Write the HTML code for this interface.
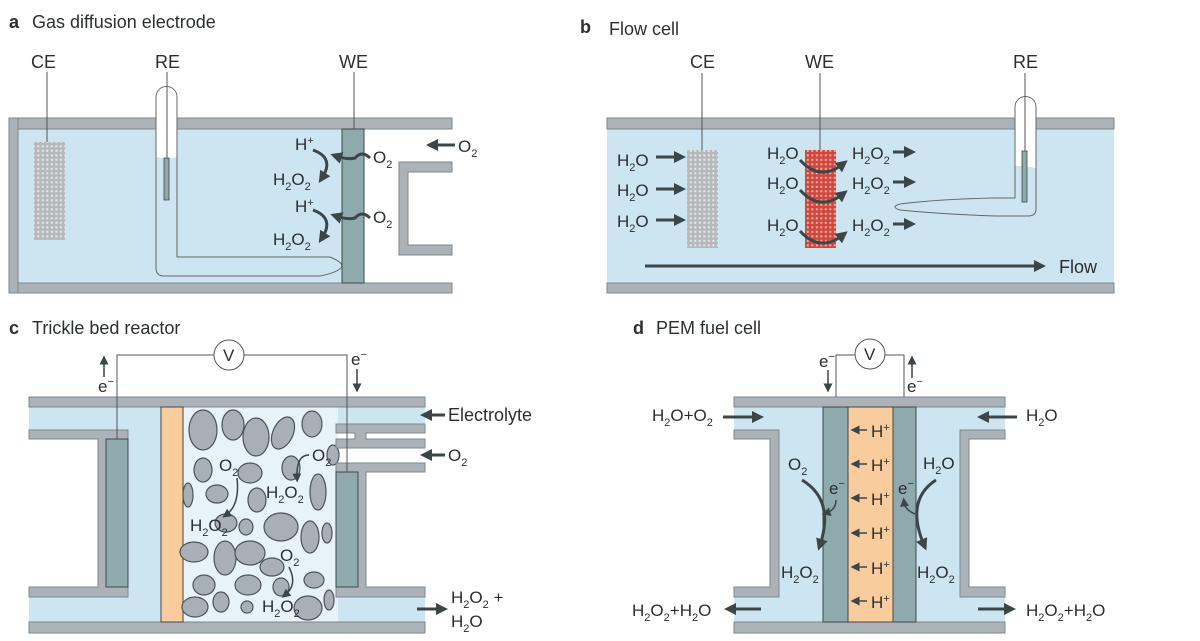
<!DOCTYPE html>
<html><head><meta charset="utf-8"><style>
html,body{margin:0;padding:0;background:#fff}
svg{display:block}
text{font-family:"Liberation Sans",sans-serif;fill:#2b2f31}
.t{font-size:18px}
.c{font-size:17px}
.s{font-size:11px}
.bar{fill:#abb3b8;stroke:#7e878c;stroke-width:1}
.blue{fill:#cde4f1}
.teal{fill:#8eaaac;stroke:#3e4a4d;stroke-width:1}
.rk{fill:#a9b0b5;stroke:#4a5357;stroke-width:1.2}
.thin{stroke:#555;stroke-width:1;fill:none}
.ar{stroke:#3b4649;stroke-width:3;fill:none}
.ar2{stroke:#3b4649;stroke-width:1.5;fill:none}
</style></head><body>
<svg width="1200" height="641" viewBox="0 0 1200 641" xmlns="http://www.w3.org/2000/svg">
<defs>
<marker id="m" markerWidth="4" markerHeight="4" refX="2" refY="2" orient="auto" markerUnits="strokeWidth"><path d="M0,0 L4,2 L0,4 Z" fill="#3b4649"/></marker>
<marker id="ms" markerWidth="6" markerHeight="6" refX="3" refY="3" orient="auto" markerUnits="strokeWidth"><path d="M0,0 L6,3 L0,6 Z" fill="#3b4649"/></marker>
<pattern id="gm" width="4.5" height="4.5" patternUnits="userSpaceOnUse"><rect width="4.5" height="4.5" fill="#b5b9bc"/><rect x="1.3" y="1.3" width="2" height="2" fill="#e4e8ea"/></pattern>
<pattern id="rm" width="4.5" height="4.5" patternUnits="userSpaceOnUse"><rect width="4.5" height="4.5" fill="#d0473d"/><rect x="1.3" y="1.3" width="2" height="2" fill="#f0b0a8"/></pattern>
</defs>

<!-- ===== Panel a ===== -->
<text x="9" y="28" class="t" font-weight="bold">a</text>
<text x="32" y="28" class="t">Gas diffusion electrode</text>
<rect x="18" y="129" width="324" height="154" class="blue"/>
<rect x="9" y="118" width="443" height="11" class="bar"/>
<rect x="9" y="283" width="443" height="10" class="bar"/>
<rect x="9" y="118" width="9" height="175" class="bar"/>
<path d="M399,162 H452 V172 H408 V245 H452 V255 H399 Z" class="bar"/>
<rect x="34" y="142" width="31" height="98" fill="url(#gm)"/>
<line x1="47" y1="72" x2="47" y2="142" class="thin"/>
<text x="31" y="68" class="t">CE</text>
<path d="M156,97 A10.5,10.5 0 0 1 177,97 V257 H330 Q342,262 342,266 Q340,272 320,276 H164 Q156,276 156,268 Z" fill="#cde4f1" stroke="#666" stroke-width="1"/>
<path d="M156.5,97 A10,10 0 0 1 176.5,97 V157 Q166,160 156.5,157 Z" fill="#fff"/>
<rect x="164" y="158" width="5" height="42" fill="#8eaaac" stroke="#444" stroke-width="0.8"/>
<line x1="167" y1="72" x2="167" y2="158" class="thin"/>
<text x="155" y="68" class="t">RE</text>
<rect x="342" y="129" width="22" height="154" class="teal"/>
<line x1="354" y1="72" x2="354" y2="129" class="thin"/>
<text x="339" y="68" class="t">WE</text>
<path d="M455,145 H432" class="ar" marker-end="url(#m)"/>
<text x="458" y="152" class="c">O<tspan class="s" dy="5">2</tspan></text>
<text x="295" y="150" class="c">H<tspan class="s" dy="-6">+</tspan></text>
<path d="M313,150 Q335,158 322,178" class="ar" marker-end="url(#m)"/>
<path d="M370,158 Q362,150 355,158 Q348,160 336,156" class="ar" marker-end="url(#m)" stroke-width="2.5"/>
<text x="373" y="163" class="c">O<tspan class="s" dy="5">2</tspan></text>
<text x="273" y="185" class="c">H<tspan class="s" dy="5">2</tspan><tspan dy="-5">O</tspan><tspan class="s" dy="5">2</tspan></text>
<text x="295" y="212" class="c">H<tspan class="s" dy="-6">+</tspan></text>
<path d="M313,210 Q335,218 322,238" class="ar" marker-end="url(#m)"/>
<path d="M370,218 Q362,210 355,218 Q348,220 336,216" class="ar" marker-end="url(#m)" stroke-width="2.5"/>
<text x="373" y="223" class="c">O<tspan class="s" dy="5">2</tspan></text>
<text x="273" y="245" class="c">H<tspan class="s" dy="5">2</tspan><tspan dy="-5">O</tspan><tspan class="s" dy="5">2</tspan></text>

<!-- ===== Panel b ===== -->
<text x="580" y="33" class="t" font-weight="bold">b</text>
<text x="609" y="35" class="t">Flow cell</text>
<rect x="607" y="129" width="507" height="154" class="blue"/>
<rect x="607" y="118" width="507" height="11" class="bar"/>
<rect x="607" y="283" width="507" height="10" class="bar"/>
<rect x="687" y="150" width="31" height="98" fill="url(#gm)"/>
<line x1="702" y1="73" x2="702" y2="150" class="thin"/>
<text x="690" y="68" class="t">CE</text>
<rect x="805" y="150" width="31" height="98" fill="url(#rm)"/>
<line x1="820" y1="73" x2="820" y2="150" class="thin"/>
<text x="805" y="68" class="t">WE</text>
<path d="M1015,107 A10.5,10.5 0 0 1 1036,107 V209 Q1036,216 1028,216 H995 Q940,214 900,210 Q890,207 900,204 Q940,199 995,198 H1015 Z" fill="#cde4f1" stroke="#666" stroke-width="1"/>
<path d="M1015.5,107 A10,10 0 0 1 1035.5,107 V168 Q1025,166 1015.5,166 Z" fill="#fff"/>
<rect x="1022" y="151" width="5" height="51" fill="#8eaaac" stroke="#444" stroke-width="0.8"/>
<line x1="1025" y1="73" x2="1025" y2="151" class="thin"/>
<text x="1013" y="68" class="t">RE</text>
<text x="617" y="166" class="c">H<tspan class="s" dy="5">2</tspan><tspan dy="-5">O</tspan></text>
<text x="617" y="196" class="c">H<tspan class="s" dy="5">2</tspan><tspan dy="-5">O</tspan></text>
<text x="617" y="227" class="c">H<tspan class="s" dy="5">2</tspan><tspan dy="-5">O</tspan></text>
<path d="M656,157 H680" class="ar" marker-end="url(#m)"/>
<path d="M656,189 H680" class="ar" marker-end="url(#m)"/>
<path d="M656,220 H680" class="ar" marker-end="url(#m)"/>
<text x="767" y="159" class="c">H<tspan class="s" dy="5">2</tspan><tspan dy="-5">O</tspan></text>
<text x="767" y="189" class="c">H<tspan class="s" dy="5">2</tspan><tspan dy="-5">O</tspan></text>
<text x="767" y="231" class="c">H<tspan class="s" dy="5">2</tspan><tspan dy="-5">O</tspan></text>
<path d="M800,160 Q820,182 843,164" class="ar" marker-end="url(#m)"/>
<path d="M800,190 Q820,212 843,194" class="ar" marker-end="url(#m)"/>
<path d="M800,231 Q820,253 843,235" class="ar" marker-end="url(#m)"/>
<text x="852" y="159" class="c">H<tspan class="s" dy="5">2</tspan><tspan dy="-5">O</tspan><tspan class="s" dy="5">2</tspan></text>
<text x="852" y="189" class="c">H<tspan class="s" dy="5">2</tspan><tspan dy="-5">O</tspan><tspan class="s" dy="5">2</tspan></text>
<text x="852" y="231" class="c">H<tspan class="s" dy="5">2</tspan><tspan dy="-5">O</tspan><tspan class="s" dy="5">2</tspan></text>
<path d="M893,152 H910" class="ar" marker-end="url(#m)"/>
<path d="M893,182 H910" class="ar" marker-end="url(#m)"/>
<path d="M893,224 H910" class="ar" marker-end="url(#m)"/>
<path d="M645,266 H1040" class="ar" marker-end="url(#m)"/>
<text x="1059" y="273" class="t">Flow</text>

<!-- ===== Panel c ===== -->
<text x="9" y="334" class="t" font-weight="bold">c</text>
<text x="32" y="334" class="t">Trickle bed reactor</text>
<rect x="29" y="407" width="396" height="215" class="blue"/>
<rect x="29" y="439" width="69" height="148" fill="#fff"/>
<rect x="366" y="472" width="59" height="115" fill="#fff"/>
<rect x="336" y="448" width="89" height="15" fill="#fff"/>
<rect x="336" y="433" width="89" height="6" fill="#fff"/>
<rect x="183" y="407" width="155" height="215" fill="#e8f3f9"/>
<rect x="29" y="397" width="396" height="10" class="bar"/>
<rect x="29" y="622" width="396" height="11" class="bar"/>
<path d="M29,430 H128 V439 H106 V587 H128 V597 H29 V587 H98 V439 H29 Z" class="bar"/>
<rect x="106" y="439" width="22" height="148" class="teal"/>
<rect x="161" y="407" width="22" height="215" fill="#f8cc9c" stroke="#444" stroke-width="1"/>
<g class="rk">
<ellipse cx="203" cy="430" rx="14" ry="20"/><ellipse cx="233" cy="425" rx="11" ry="15"/><ellipse cx="256" cy="437" rx="13" ry="19"/>
<ellipse cx="283" cy="433" rx="10" ry="17" transform="rotate(25 283 433)"/><ellipse cx="312" cy="424" rx="10" ry="13"/>
<ellipse cx="203" cy="470" rx="9" ry="12"/><ellipse cx="250" cy="473" rx="12" ry="10"/><ellipse cx="291" cy="468" rx="9" ry="12"/>
<ellipse cx="318" cy="492" rx="8" ry="18"/><ellipse cx="217" cy="494" rx="11" ry="9"/><ellipse cx="257" cy="500" rx="9" ry="12"/>
<ellipse cx="188" cy="495" rx="5" ry="12"/><ellipse cx="226" cy="523" rx="11" ry="9"/><ellipse cx="246" cy="527" rx="7" ry="8"/>
<ellipse cx="281" cy="527" rx="17" ry="14"/><ellipse cx="310" cy="537" rx="9" ry="16"/><ellipse cx="194" cy="552" rx="14" ry="10"/>
<ellipse cx="225" cy="558" rx="11" ry="17"/><ellipse cx="250" cy="553" rx="15" ry="12"/><ellipse cx="272" cy="567" rx="12" ry="9"/>
<ellipse cx="327" cy="533" rx="5" ry="10"/><ellipse cx="204" cy="585" rx="11" ry="10"/><ellipse cx="248" cy="585" rx="13" ry="10"/>
<ellipse cx="281" cy="587" rx="8" ry="9"/><ellipse cx="314" cy="580" rx="10" ry="8"/><ellipse cx="221" cy="602" rx="8" ry="10"/>
<ellipse cx="195" cy="607" rx="13" ry="10"/><ellipse cx="247" cy="607" rx="6" ry="6"/><ellipse cx="308" cy="608" rx="14" ry="12"/>
<ellipse cx="329" cy="600" rx="5" ry="10"/><ellipse cx="333" cy="455" rx="6" ry="10"/>
</g>
<path d="M336,424 H425 V433 H366 V439 H425 V448 H336 V439 H355 V433 H336 Z" class="bar"/>
<path d="M336,463 H425 V472 H366 V587 H425 V597 H336 V587 H358 V472 H336 Z" class="bar"/>
<rect x="336" y="472" width="22" height="115" class="teal"/>
<path d="M117,439 V355 H347 V472" class="thin"/>
<circle cx="229" cy="355" r="15" fill="#fff" stroke="#555" stroke-width="1"/>
<text x="223" y="361" class="c">V</text>
<path d="M104,377 V360" class="ar2" marker-end="url(#ms)"/>
<text x="98" y="392" class="c">e<tspan class="s" dy="-7">−</tspan></text>
<text x="351" y="365" class="c">e<tspan class="s" dy="-7">−</tspan></text>
<path d="M357,369 V388" class="ar2" marker-end="url(#ms)"/>
<path d="M445,415 H426" class="ar" marker-end="url(#m)"/>
<text x="448" y="421" class="t">Electrolyte</text>
<path d="M445,455 H426" class="ar" marker-end="url(#m)"/>
<text x="448" y="461" class="c">O<tspan class="s" dy="5">2</tspan></text>
<path d="M417,609 H442" class="ar" marker-end="url(#m)"/>
<text x="451" y="603" class="c">H<tspan class="s" dy="5">2</tspan><tspan dy="-5">O</tspan><tspan class="s" dy="5">2</tspan><tspan dy="-5"> +</tspan></text>
<text x="451" y="627" class="c">H<tspan class="s" dy="5">2</tspan><tspan dy="-5">O</tspan></text>
<text x="219" y="471" class="c">O<tspan class="s" dy="5">2</tspan></text>
<path d="M237,478 Q240,505 226,515" class="ar2" marker-end="url(#ms)"/>
<text x="190" y="531" class="c">H<tspan class="s" dy="5">2</tspan><tspan dy="-5">O</tspan><tspan class="s" dy="5">2</tspan></text>
<text x="312" y="461" class="c">O<tspan class="s" dy="5">2</tspan></text>
<path d="M309,455 Q296,455 297,478" class="ar2" marker-end="url(#ms)"/>
<text x="266" y="498" class="c">H<tspan class="s" dy="5">2</tspan><tspan dy="-5">O</tspan><tspan class="s" dy="5">2</tspan></text>
<text x="280" y="561" class="c">O<tspan class="s" dy="5">2</tspan></text>
<path d="M289,567 Q298,585 285,595" class="ar2" marker-end="url(#ms)"/>
<text x="262" y="612" class="c">H<tspan class="s" dy="5">2</tspan><tspan dy="-5">O</tspan><tspan class="s" dy="5">2</tspan></text>

<!-- ===== Panel d ===== -->
<text x="633" y="334" class="t" font-weight="bold">d</text>
<text x="656" y="334" class="t">PEM fuel cell</text>
<rect x="734" y="407" width="271" height="215" class="blue"/>
<rect x="734" y="439" width="36" height="148" fill="#fff"/>
<rect x="969" y="439" width="36" height="148" fill="#fff"/>
<rect x="734" y="397" width="271" height="10" class="bar"/>
<rect x="734" y="622" width="271" height="11" class="bar"/>
<path d="M734,430 H779 V597 H734 V587 H770 V439 H734 Z" class="bar"/>
<path d="M1005,430 H960 V597 H1005 V587 H969 V439 H1005 Z" class="bar"/>
<rect x="823" y="407" width="25" height="215" class="teal"/>
<rect x="848" y="407" width="45" height="215" fill="#f8cc9c" stroke="#444" stroke-width="1"/>
<rect x="893" y="407" width="23" height="215" class="teal"/>
<path d="M836,397 V355 H855 M885,355 H904 V397" class="thin"/>
<circle cx="870" cy="354" r="15" fill="#fff" stroke="#555" stroke-width="1"/>
<text x="864" y="360" class="c">V</text>
<text x="819" y="367" class="c">e<tspan class="s" dy="-7">−</tspan></text>
<path d="M828,370 V388" class="ar2" marker-end="url(#ms)"/>
<path d="M912,378 V360" class="ar2" marker-end="url(#ms)"/>
<text x="907" y="392" class="c">e<tspan class="s" dy="-7">−</tspan></text>
<text x="871" y="437" class="c">H<tspan class="s" dy="-6">+</tspan></text>
<text x="871" y="471" class="c">H<tspan class="s" dy="-6">+</tspan></text>
<text x="871" y="505" class="c">H<tspan class="s" dy="-6">+</tspan></text>
<text x="871" y="539" class="c">H<tspan class="s" dy="-6">+</tspan></text>
<text x="871" y="574" class="c">H<tspan class="s" dy="-6">+</tspan></text>
<text x="871" y="608" class="c">H<tspan class="s" dy="-6">+</tspan></text>
<g class="ar2" marker-end="url(#ms)">
<path d="M867,430 H855"/><path d="M867,464 H855"/><path d="M867,498 H855"/><path d="M867,533 H855"/><path d="M867,567 H855"/><path d="M867,601 H855"/>
</g>
<text x="652" y="421" class="c">H<tspan class="s" dy="5">2</tspan><tspan dy="-5">O+O</tspan><tspan class="s" dy="5">2</tspan></text>
<path d="M723,417 H758" class="ar" marker-end="url(#m)"/>
<path d="M1017,417 H983" class="ar" marker-end="url(#m)"/>
<text x="1026" y="421" class="c">H<tspan class="s" dy="5">2</tspan><tspan dy="-5">O</tspan></text>
<text x="632" y="616" class="c">H<tspan class="s" dy="5">2</tspan><tspan dy="-5">O</tspan><tspan class="s" dy="5">2</tspan><tspan dy="-5">+H</tspan><tspan class="s" dy="5">2</tspan><tspan dy="-5">O</tspan></text>
<path d="M761,609 H730" class="ar" marker-end="url(#m)"/>
<path d="M978,609 H1010" class="ar" marker-end="url(#m)"/>
<text x="1026" y="616" class="c">H<tspan class="s" dy="5">2</tspan><tspan dy="-5">O</tspan><tspan class="s" dy="5">2</tspan><tspan dy="-5">+H</tspan><tspan class="s" dy="5">2</tspan><tspan dy="-5">O</tspan></text>
<text x="788" y="470" class="c">O<tspan class="s" dy="5">2</tspan></text>
<path d="M802,480 Q835,500 820,545" class="ar" marker-end="url(#m)"/>
<text x="829" y="494" class="c">e<tspan class="s" dy="-7">−</tspan></text>
<path d="M836,500 Q836,510 826,513" class="ar2" marker-end="url(#ms)"/>
<text x="781" y="578" class="c">H<tspan class="s" dy="5">2</tspan><tspan dy="-5">O</tspan><tspan class="s" dy="5">2</tspan></text>
<text x="923" y="469" class="c">H<tspan class="s" dy="5">2</tspan><tspan dy="-5">O</tspan></text>
<path d="M936,480 Q905,500 924,545" class="ar" marker-end="url(#m)"/>
<text x="898" y="494" class="c">e<tspan class="s" dy="-7">−</tspan></text>
<path d="M915,514 Q905,510 904,502" class="ar2" marker-end="url(#ms)"/>
<text x="917" y="578" class="c">H<tspan class="s" dy="5">2</tspan><tspan dy="-5">O</tspan><tspan class="s" dy="5">2</tspan></text>
</svg>
</body></html>
